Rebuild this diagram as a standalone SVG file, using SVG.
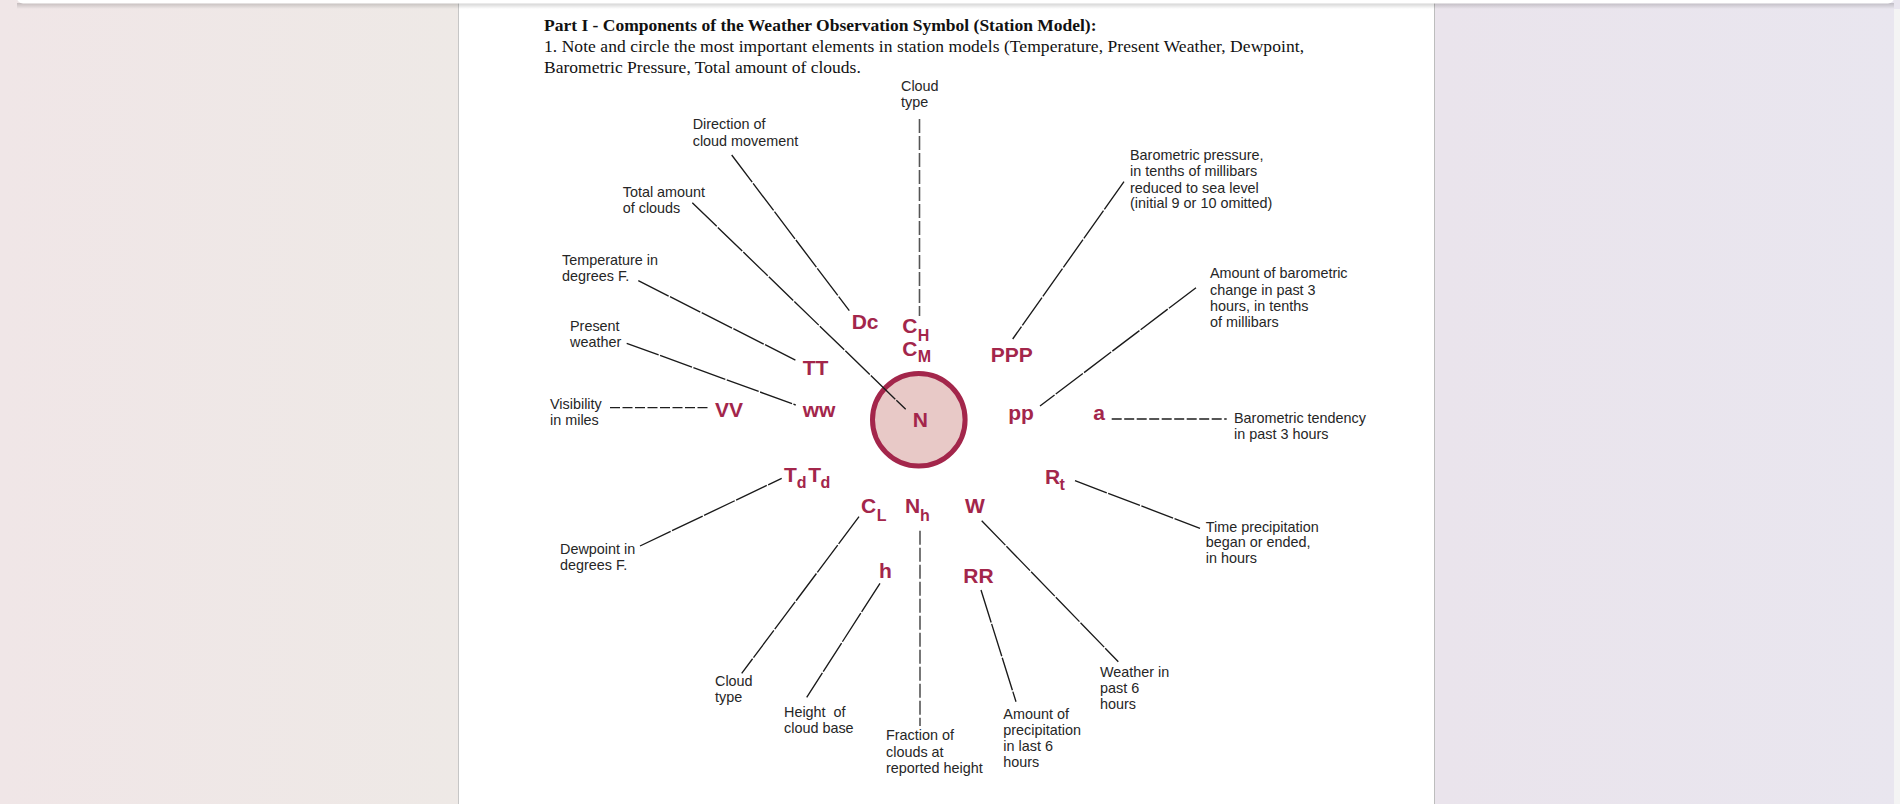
<svg xmlns="http://www.w3.org/2000/svg" width="1900" height="804" viewBox="0 0 1900 804">
<defs>
<linearGradient id="bg" x1="0" y1="0" x2="1" y2="0">
<stop offset="0" stop-color="#f0e6e7"/>
<stop offset="0.24" stop-color="#eee9e6"/>
<stop offset="0.76" stop-color="#eae4ec"/>
<stop offset="1" stop-color="#e9e6ef"/>
</linearGradient>
<linearGradient id="shadow" x1="0" y1="0" x2="0" y2="1">
<stop offset="0" stop-color="#000" stop-opacity="0.18"/>
<stop offset="1" stop-color="#000" stop-opacity="0"/>
</linearGradient>
<style>
.hd{font-family:"Liberation Serif","Times New Roman",serif;font-size:17.5px;fill:#111}
.hb{font-weight:bold}
.lb{font-family:"Liberation Sans",Arial,sans-serif;font-size:14.4px;fill:#262626;white-space:pre}
.sy{font-family:"Liberation Sans",Arial,sans-serif;font-size:21px;font-weight:bold;fill:#a3264b}
.sb{font-size:16px}
.ln{stroke:#1a1a1a;stroke-width:1.35;fill:none;stroke-dasharray:34 1.5}
.hz{stroke:#1e1e1e;stroke-width:1.3;fill:none;stroke-dasharray:10 2.5}
.vt{stroke:#555;stroke-width:1.6;fill:none;stroke-dasharray:14 3}
</style>
</defs>
<rect x="0" y="0" width="1900" height="804" fill="url(#bg)"/>
<rect x="459" y="0" width="975" height="804" fill="#ffffff"/>
<line x1="458.5" y1="0" x2="458.5" y2="804" stroke="#c6c6c6" stroke-width="1"/>
<line x1="1434.5" y1="0" x2="1434.5" y2="804" stroke="#bdbdbd" stroke-width="1"/>
<rect x="17" y="3" width="1877" height="6" fill="url(#shadow)"/>
<rect x="17" y="-12" width="1877" height="15.5" rx="6" fill="#ffffff"/>
<rect x="1894" y="9" width="6" height="795" fill="#f4f4f4"/>

<g id="header">
<text class="hd hb" x="544" y="31">Part I - Components of the Weather Observation Symbol (Station Model):</text>
<text class="hd" x="544" y="52" textLength="760">1. Note and circle the most important elements in station models (Temperature, Present Weather, Dewpoint,</text>
<text class="hd" x="544" y="73">Barometric Pressure, Total amount of clouds.</text>
</g>

<g id="station-circle">
<circle cx="918.8" cy="419.7" r="46.3" fill="#e8c9c7" stroke="#a3264b" stroke-width="5"/>
<text class="sy" x="912.7" y="426.5">N</text>
</g>

<g id="connectors">
<line class="vt" x1="919.5" y1="119" x2="919.5" y2="316"/>
<line class="ln" x1="731.7" y1="155" x2="849.3" y2="310.7"/>
<line class="ln" x1="692.3" y1="202.7" x2="905.7" y2="409.3"/>
<line class="ln" x1="638.3" y1="280.7" x2="796.7" y2="360.7"/>
<line class="ln" x1="626.7" y1="343.3" x2="795.7" y2="405"/>
<line class="hz" x1="610" y1="407.7" x2="710" y2="407.7"/>
<line class="ln" x1="640" y1="546" x2="781.7" y2="478.3"/>
<line class="ln" x1="859" y1="516.7" x2="741.7" y2="673.3"/>
<line class="ln" x1="880" y1="583.3" x2="806.7" y2="697.3"/>
<line class="vt" x1="920" y1="530.7" x2="920" y2="726"/>
<line class="ln" x1="981" y1="590" x2="1016" y2="701.7"/>
<line class="ln" x1="981.7" y1="520.7" x2="1118.3" y2="661.7"/>
<line class="ln" x1="1075" y1="480.7" x2="1200" y2="528.3"/>
<line class="hz" x1="1111.7" y1="419" x2="1226.7" y2="419"/>
<line class="ln" x1="1196" y1="287.7" x2="1040" y2="406"/>
<line class="ln" x1="1124" y1="181.7" x2="1012.7" y2="339"/>
</g>

<g id="sym-CH"><text class="sy" x="902.3" y="333.3">C<tspan class="sb" x="917.7" y="341">H</tspan></text></g>
<g id="sym-CM"><text class="sy" x="902.3" y="356">C<tspan class="sb" x="917.7" y="362.3">M</tspan></text></g>
<g id="sym-Dc"><text class="sy" x="851.7" y="329.3">Dc</text></g>
<g id="sym-TT"><text class="sy" x="802.7" y="375">TT</text></g>
<g id="sym-ww"><text class="sy" x="802.7" y="416.7">ww</text></g>
<g id="sym-VV"><text class="sy" x="715" y="416.7">VV</text></g>
<g id="sym-TdTd"><text class="sy" x="784" y="481.7">T<tspan class="sb" x="796.7" y="488.3">d</tspan><tspan x="808.3" y="481.7">T</tspan><tspan class="sb" x="820.5" y="488.3">d</tspan></text></g>
<g id="sym-CL"><text class="sy" x="861" y="513.3">C<tspan class="sb" x="876.7" y="520.7">L</tspan></text></g>
<g id="sym-Nh"><text class="sy" x="905" y="513.3">N<tspan class="sb" x="920" y="520.7">h</tspan></text></g>
<g id="sym-W"><text class="sy" x="965" y="513.3">W</text></g>
<g id="sym-h"><text class="sy" x="879" y="577.7">h</text></g>
<g id="sym-RR"><text class="sy" x="963.3" y="582.7">RR</text></g>
<g id="sym-Rt"><text class="sy" x="1045" y="484">R<tspan class="sb" x="1059.5" y="490">t</tspan></text></g>
<g id="sym-a"><text class="sy" x="1093.3" y="420">a</text></g>
<g id="sym-pp"><text class="sy" x="1008.3" y="420">pp</text></g>
<g id="sym-PPP"><text class="sy" x="990.7" y="361.7">PPP</text></g>

<g id="lbl-cloud-type-top"><text class="lb" x="901" y="91">Cloud</text><text class="lb" x="901" y="107">type</text></g>
<g id="lbl-direction"><text class="lb" x="692.7" y="129.3">Direction of</text><text class="lb" x="692.7" y="146">cloud movement</text></g>
<g id="lbl-total"><text class="lb" x="622.7" y="196.7">Total amount</text><text class="lb" x="622.7" y="212.7">of clouds</text></g>
<g id="lbl-temp"><text class="lb" x="562" y="264.7">Temperature in</text><text class="lb" x="562" y="281">degrees F.</text></g>
<g id="lbl-present"><text class="lb" x="570" y="331">Present</text><text class="lb" x="570" y="347.3">weather</text></g>
<g id="lbl-visibility"><text class="lb" x="550" y="409.3">Visibility</text><text class="lb" x="550" y="425.3">in miles</text></g>
<g id="lbl-dewpoint"><text class="lb" x="560" y="554">Dewpoint in</text><text class="lb" x="560" y="570">degrees F.</text></g>
<g id="lbl-cloud-type-low"><text class="lb" x="715" y="685.7">Cloud</text><text class="lb" x="715" y="701.7">type</text></g>
<g id="lbl-height"><text class="lb" x="784" y="716.7">Height  of</text><text class="lb" x="784" y="733.3">cloud base</text></g>
<g id="lbl-fraction"><text class="lb" x="886" y="740">Fraction of</text><text class="lb" x="886" y="756.7">clouds at</text><text class="lb" x="886" y="772.7">reported height</text></g>
<g id="lbl-amount-precip"><text class="lb" x="1003.3" y="719">Amount of</text><text class="lb" x="1003.3" y="735">precipitation</text><text class="lb" x="1003.3" y="751">in last 6</text><text class="lb" x="1003.3" y="766.7">hours</text></g>
<g id="lbl-weather-past"><text class="lb" x="1100" y="676.7">Weather in</text><text class="lb" x="1100" y="693.3">past 6</text><text class="lb" x="1100" y="709.3">hours</text></g>
<g id="lbl-time-precip"><text class="lb" x="1205.7" y="531.7">Time precipitation</text><text class="lb" x="1205.7" y="547.3">began or ended,</text><text class="lb" x="1205.7" y="563.3">in hours</text></g>
<g id="lbl-tendency"><text class="lb" x="1234" y="423.3">Barometric tendency</text><text class="lb" x="1234" y="439.3">in past 3 hours</text></g>
<g id="lbl-change"><text class="lb" x="1210" y="278.3">Amount of barometric</text><text class="lb" x="1210" y="295">change in past 3</text><text class="lb" x="1210" y="310.7">hours, in tenths</text><text class="lb" x="1210" y="326.7">of millibars</text></g>
<g id="lbl-pressure"><text class="lb" x="1130" y="160">Barometric pressure,</text><text class="lb" x="1130" y="176">in tenths of millibars</text><text class="lb" x="1130" y="192.7">reduced to sea level</text><text class="lb" x="1130" y="208.3">(initial 9 or 10 omitted)</text></g>
</svg>
